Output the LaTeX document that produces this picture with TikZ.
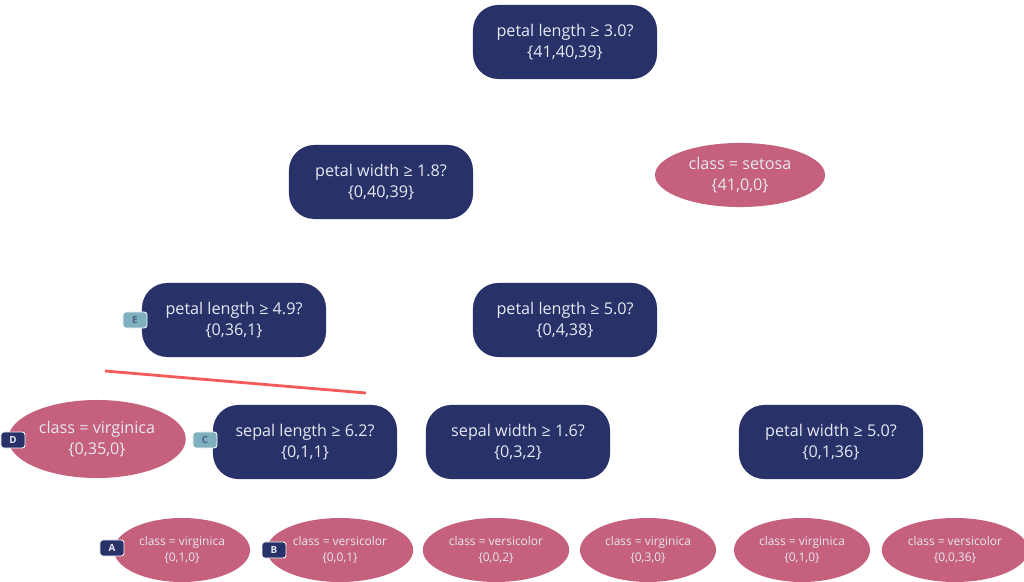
\documentclass[tikz,border=0pt]{standalone}
\usepackage{fontspec}
\setmainfont{Open Sans}
\usetikzlibrary{shapes.geometric}
\definecolor{navy}{HTML}{283168}
\definecolor{rose}{HTML}{C5607D}
\definecolor{teal}{HTML}{7FB0BD}
\definecolor{redline}{HTML}{F45A5A}
\definecolor{pale}{HTML}{E6E8F2}
\tikzset{
  test/.style={fill=navy, text=pale, rounded corners=18pt, minimum width=4.6cm,
    minimum height=1.85cm, align=center, font=\fontsize{11.5}{15}\selectfont},
  leaf/.style={ellipse, fill=rose, text=pale, minimum width=4.25cm,
    minimum height=1.5cm, align=center, font=\fontsize{11.5}{15}\selectfont},
  smallleaf/.style={leaf, minimum width=3.4cm, minimum height=1.6cm,
    font=\fontsize{8.5}{11}\selectfont},
  tag/.style={rounded corners=2pt, minimum width=0.6cm, minimum height=0.4cm,
    inner sep=0pt, font=\bfseries\fontsize{7}{8}\selectfont},
  lighttag/.style={tag, fill=teal, draw=white, line width=0.6pt, text=navy!80},
  darktag/.style={tag, fill=navy, draw=white, line width=0.6pt, text=pale}
}
\begin{document}
\begin{tikzpicture}[x=0.025cm, y=-0.025cm]
  \useasboundingbox (0,0) rectangle (1024,582);

  % decision nodes
  \node[test] (root) at (565,42) {petal length ≥ 3.0?\\\{41,40,39\}};
  \node[test] (pw18) at (381,182) {petal width ≥ 1.8?\\\{0,40,39\}};
  \node[leaf] (setosa) at (740,175) {class = setosa\\\{41,0,0\}};
  \node[test] (pl49) at (234,320) {petal length ≥ 4.9?\\\{0,36,1\}};
  \node[test] (pl50) at (565,320) {petal length ≥ 5.0?\\\{0,4,38\}};
  \node[leaf, minimum height=1.95cm] (virg) at (97,439) {class = virginica\\\{0,35,0\}};
  \node[test] (sl62) at (305,442) {sepal length ≥ 6.2?\\\{0,1,1\}};
  \node[test] (sw16) at (518,442) {sepal width ≥ 1.6?\\\{0,3,2\}};
  \node[test] (pw50) at (831,442) {petal width ≥ 5.0?\\\{0,1,36\}};

  % leaves on the bottom row
  \node[smallleaf] (la) at (182,550) {class = virginica\\\{0,1,0\}};
  \node[smallleaf] (lb) at (340,550) {class = versicolor\\\{0,0,1\}};
  \node[smallleaf] (lc) at (496,550) {class = versicolor\\\{0,0,2\}};
  \node[smallleaf] (ld) at (648,550) {class = virginica\\\{0,3,0\}};
  \node[smallleaf] (le) at (802,550) {class = virginica\\\{0,1,0\}};
  \node[smallleaf] (lf) at (955,550) {class = versicolor\\\{0,0,36\}};

  % the red cut
  \coordinate (cutl) at (105,371);
  \coordinate (cutr) at (366,393);
  \draw[redline, line width=2pt] (cutl) -- (cutr);

  % letter tags
  \node[lighttag] (tagE) at (135,320) {E};
  \node[lighttag] (tagC) at (205,440) {C};
  \node[darktag] (tagD) at (13,440) {D};
  \node[darktag] (tagA) at (112,548) {A};
  \node[darktag] (tagB) at (274,550) {B};
\end{tikzpicture}
\end{document}
